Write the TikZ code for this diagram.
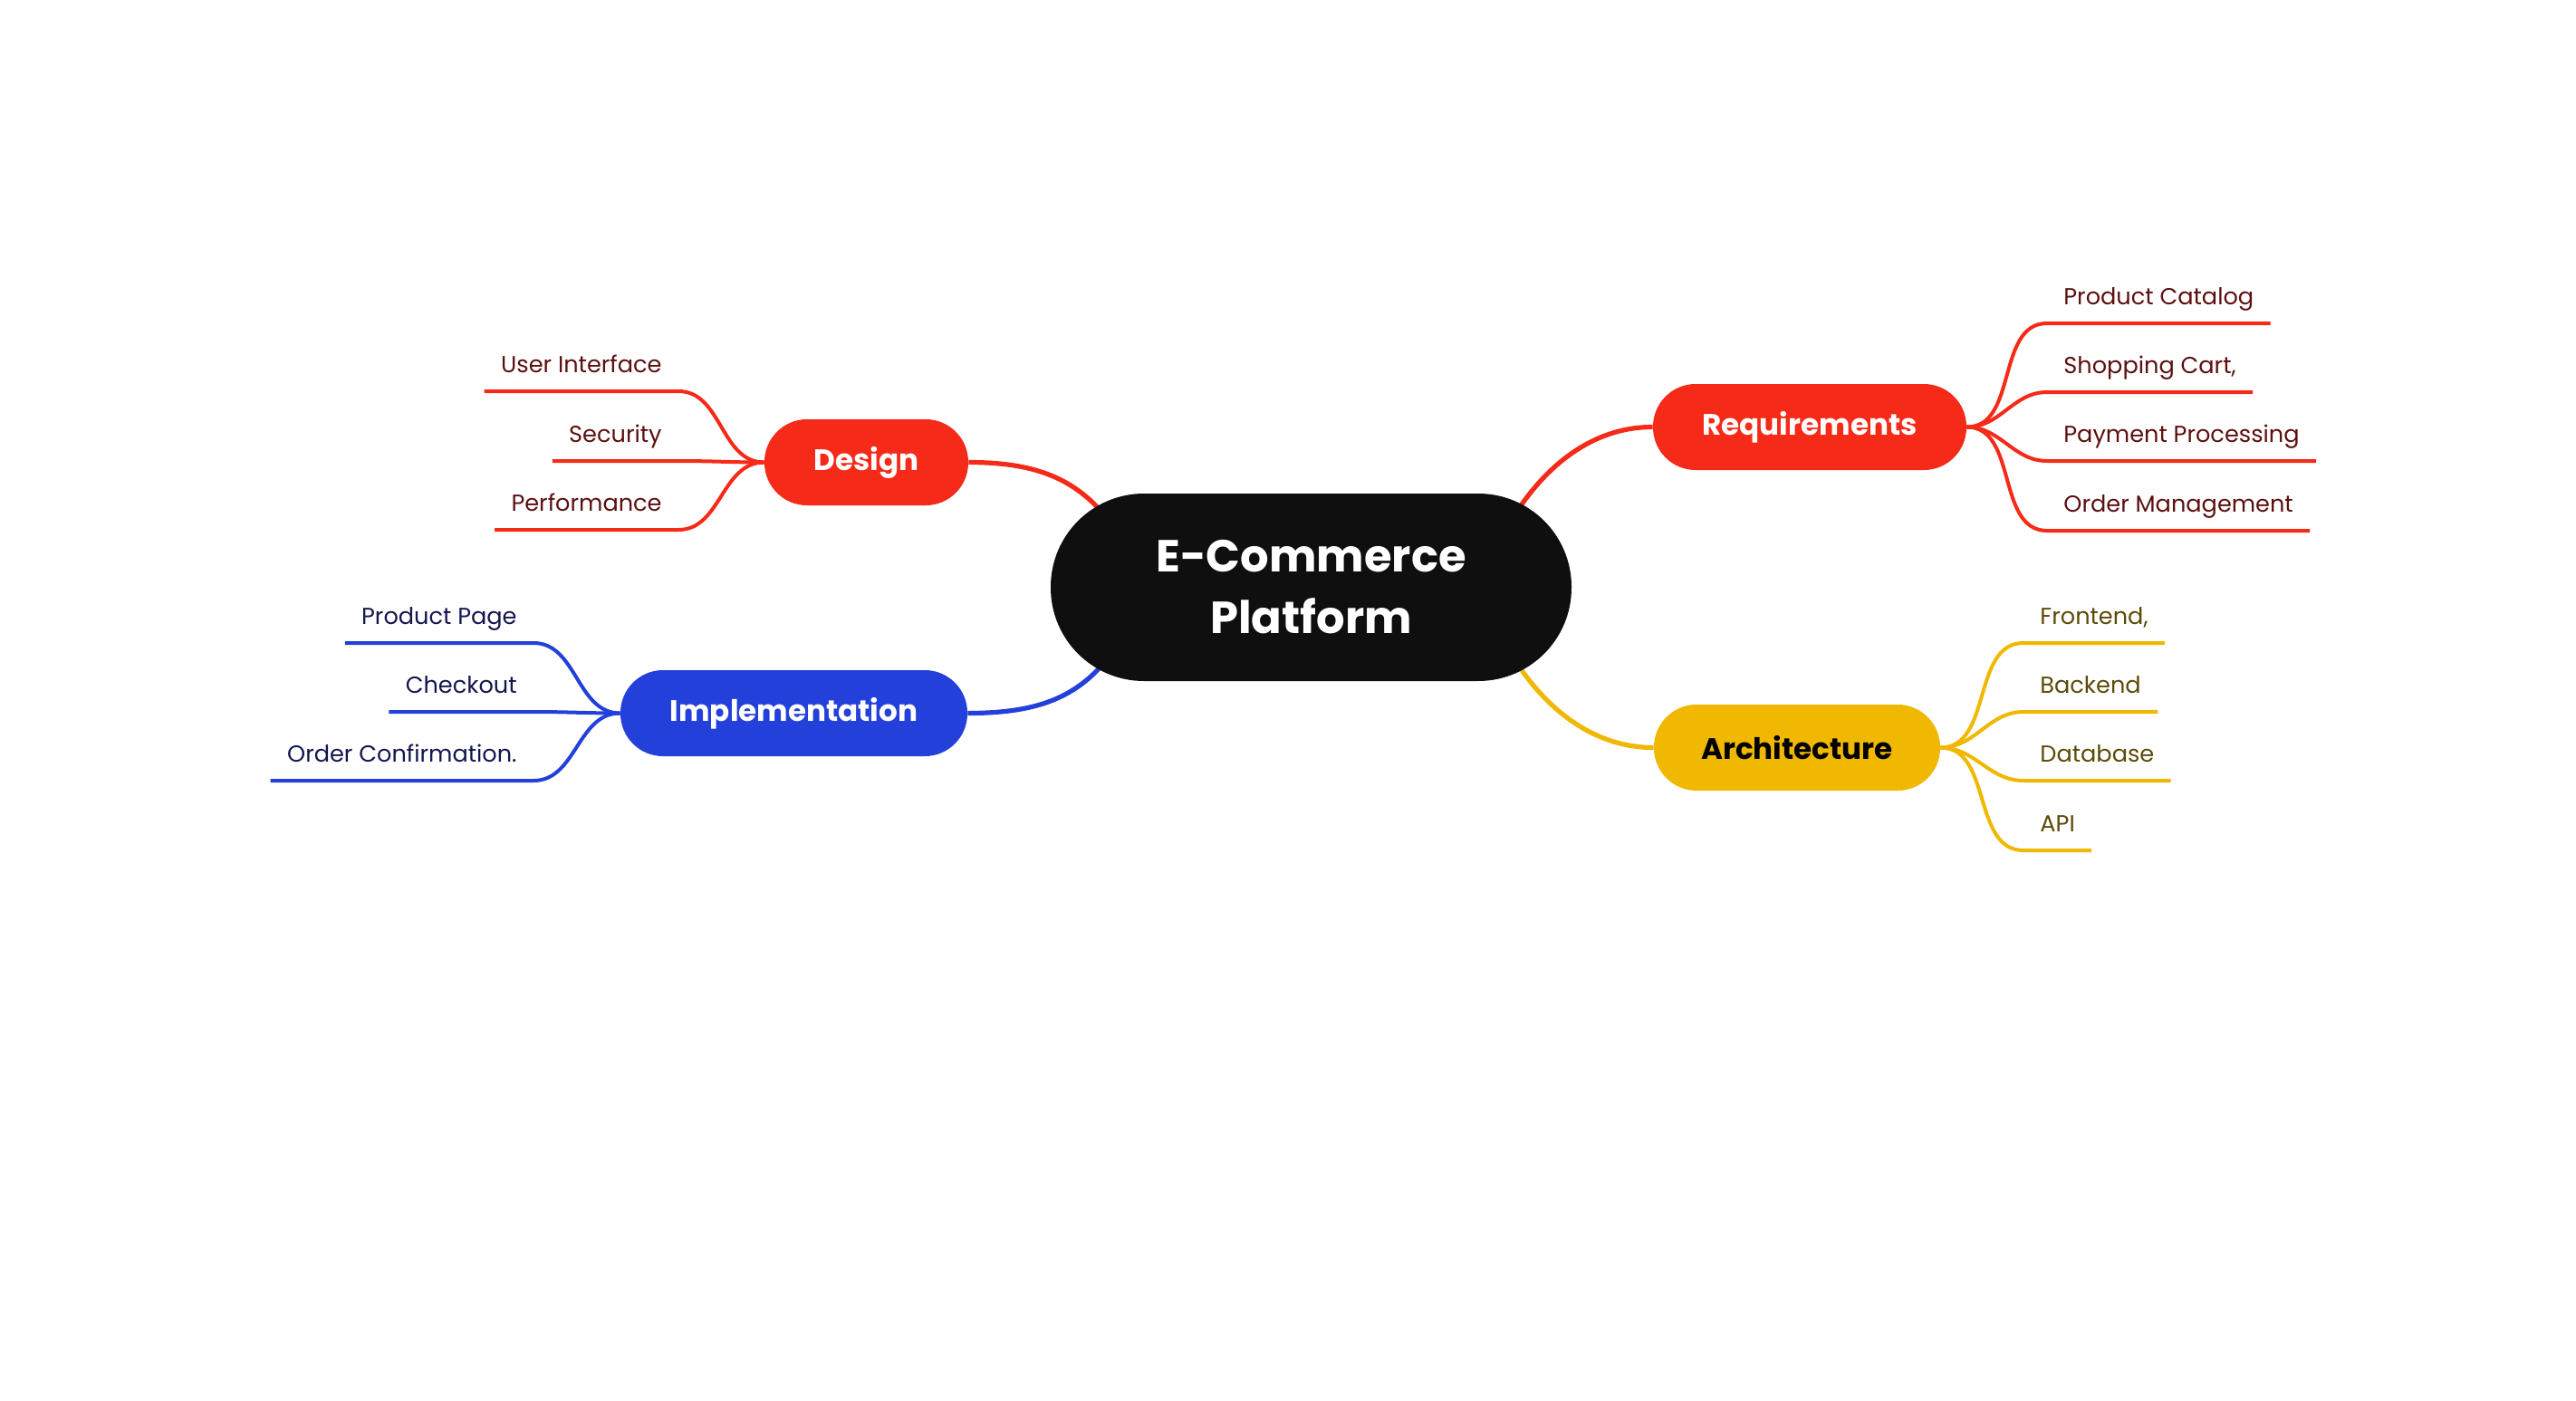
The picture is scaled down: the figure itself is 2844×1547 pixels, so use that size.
\documentclass[tikz,border=0pt]{standalone}
\usepackage{fontspec}
\setmainfont{Poppins}
\usetikzlibrary{positioning,backgrounds}
\definecolor{mapred}{RGB}{245,42,24}
\definecolor{mapblue}{RGB}{35,64,218}
\definecolor{mapyellow}{RGB}{240,184,0}
\definecolor{mapblack}{RGB}{15,15,15}
\definecolor{leafred}{RGB}{92,16,16}
\definecolor{leafblue}{RGB}{20,22,78}
\definecolor{leafyellow}{RGB}{92,74,8}

\begin{document}
\begin{tikzpicture}[x=0.5pt, y=-0.5pt,
    topic/.style={rectangle, rounded corners=23.5pt, minimum height=47.5pt, text=white, font=\fontsize{16.3}{19}\selectfont\bfseries},
    leaf/.style={inner xsep=9pt, inner ysep=10pt, text height=9pt, text depth=0pt, font=\fontsize{12.8}{15}\selectfont},
    link/.style={line width=2.6pt},
    twig/.style={line width=2pt}]
\useasboundingbox (0,0) rectangle (2844,1547);

\node[rectangle, rounded corners=51.5pt, fill=mapblack, minimum width=287.5pt, minimum height=103.5pt, text=white, align=center, font=\fontsize{24.8}{34}\selectfont\bfseries] (core) at (1447.5,648.5) {E-Commerce\\Platform};

\node[topic, fill=mapred, minimum width=112.5pt] (design) at (956.5,510.5) {Design};
\node[topic, fill=mapblue, minimum width=191.5pt] (impl) at (876.5,787.5) {Implementation};
\node[topic, fill=mapred, minimum width=173pt] (req) at (1998,471.5) {Requirements};
\node[topic, fill=mapyellow, minimum width=158pt, text=black] (arch) at (1984,825.5) {Architecture};

\node[leaf, text=leafred, anchor=south west] (pcat) at (2260,357) {Product Catalog};
\node[leaf, text=leafred, anchor=south west] (cart) at (2260,433) {Shopping Cart,};
\node[leaf, text=leafred, anchor=south west] (pay) at (2260,509) {Payment Processing};
\node[leaf, text=leafred, anchor=south west] (order) at (2260,586) {Order Management};

\node[leaf, text=leafyellow, anchor=south west] (front) at (2234,710) {Frontend,};
\node[leaf, text=leafyellow, anchor=south west] (back) at (2234,786) {Backend};
\node[leaf, text=leafyellow, anchor=south west] (db) at (2234,862) {Database};
\node[leaf, text=leafyellow, anchor=south west] (api) at (2234,939) {API};

\node[leaf, text=leafred, anchor=south east] (ui) at (749,432) {User Interface};
\node[leaf, text=leafred, anchor=south east] (sec) at (749,509) {Security};
\node[leaf, text=leafred, anchor=south east] (perf) at (749,585) {Performance};

\node[leaf, text=leafblue, anchor=south east] (ppage) at (589,710) {Product Page};
\node[leaf, text=leafblue, anchor=south east] (check) at (589,786) {Checkout};
\node[leaf, text=leafblue, anchor=south east] (confirm) at (589,862) {Order Confirmation.};

\begin{scope}[on background layer]
\draw[link, mapred] (design.east) .. controls +(70,0) and +(-35,-40) .. ([shift={(-230,-82)}]core.center);
\draw[link, mapblue] (impl.east) .. controls +(70,0) and +(-35,40) .. ([shift={(-230,85)}]core.center);
\draw[link, mapred] (req.west) .. controls +(-70,0) and +(30,-45) .. ([shift={(228,-85)}]core.center);
\draw[link, mapyellow] (arch.west) .. controls +(-70,0) and +(30,45) .. ([shift={(228,85)}]core.center);

\draw[twig, mapred] (req.east) to[out=0, in=180] (pcat.south west) -- (pcat.south east);
\draw[twig, mapred] (req.east) to[out=0, in=180] (cart.south west) -- (cart.south east);
\draw[twig, mapred] (req.east) to[out=0, in=180] (pay.south west) -- (pay.south east);
\draw[twig, mapred] (req.east) to[out=0, in=180] (order.south west) -- (order.south east);

\draw[twig, mapyellow] (arch.east) to[out=0, in=180] (front.south west) -- (front.south east);
\draw[twig, mapyellow] (arch.east) to[out=0, in=180] (back.south west) -- (back.south east);
\draw[twig, mapyellow] (arch.east) to[out=0, in=180] (db.south west) -- (db.south east);
\draw[twig, mapyellow] (arch.east) to[out=0, in=180] (api.south west) -- (api.south east);

\draw[twig, mapred] (design.west) to[out=180, in=0] (ui.south east) -- (ui.south west);
\draw[twig, mapred] (design.west) to[out=180, in=0] (sec.south east) -- (sec.south west);
\draw[twig, mapred] (design.west) to[out=180, in=0] (perf.south east) -- (perf.south west);

\draw[twig, mapblue] (impl.west) to[out=180, in=0] (ppage.south east) -- (ppage.south west);
\draw[twig, mapblue] (impl.west) to[out=180, in=0] (check.south east) -- (check.south west);
\draw[twig, mapblue] (impl.west) to[out=180, in=0] (confirm.south east) -- (confirm.south west);
\end{scope}
\end{tikzpicture}
\end{document}
